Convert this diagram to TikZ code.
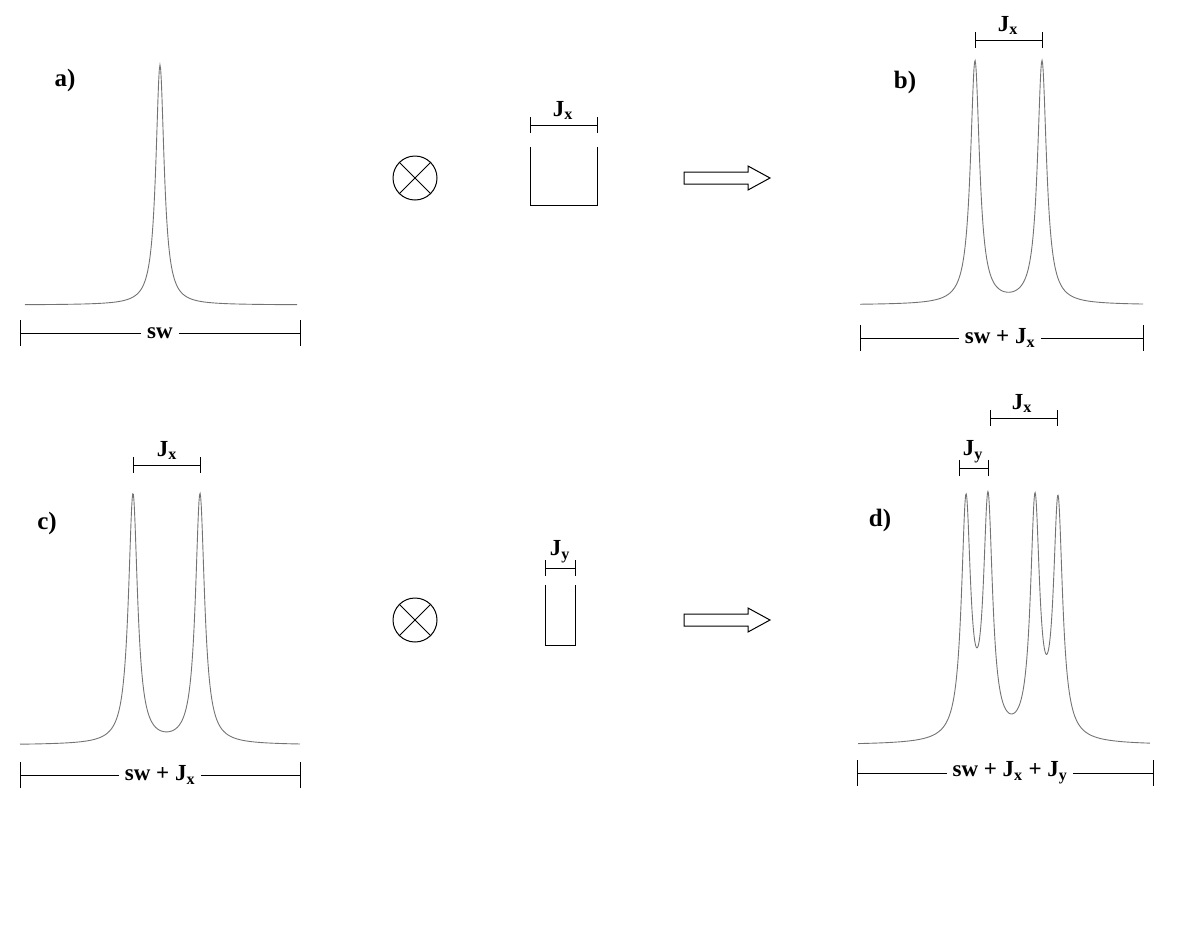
\documentclass[tikz,border=0pt]{standalone}
\usepackage{fontspec}
\setmainfont{Liberation Serif}
\begin{document}
\begin{tikzpicture}[x=1pt,y=-1pt,
  spec/.style={draw=black!55,line width=0.9pt},
  bar/.style={draw=black,line width=1pt},
  lbl/.style={font=\fontsize{25}{28}\selectfont\bfseries,inner sep=1pt},
  jl/.style={font=\fontsize{23}{26}\selectfont\bfseries,inner sep=1pt},
  bl/.style={font=\fontsize{23}{26}\selectfont\bfseries,fill=white,inner sep=6pt}]
\useasboundingbox (0,0) rectangle (1178,943);
% spectra (x scaled by 1/10 inside the Lorentzians)
\draw[spec] plot[domain=25:297,samples=400] (\x,{305-240*(0.25/((((\x)-160)/10)^2+0.25))});
\draw[spec] plot[domain=860:1143,samples=500] (\x,{305-243*(0.3025/((((\x)-975)/10)^2+0.3025)+0.3025/((((\x)-1042)/10)^2+0.3025))});
\draw[spec] plot[domain=20:300,samples=500] (\x,{745-250*(0.3025/((((\x)-133)/10)^2+0.3025)+0.3025/((((\x)-200)/10)^2+0.3025))});
\draw[spec] plot[domain=858:1150,samples=700] (\x,{745-235*(0.3025/((((\x)-966)/10)^2+0.3025)+0.3025/((((\x)-988)/10)^2+0.3025)+0.3025/((((\x)-1035)/10)^2+0.3025)+0.3025/((((\x)-1058)/10)^2+0.3025))});
% width bars
\newcommand\wbar[5]{\draw[bar] (#1,#3) -- (#2,#3) (#1,#3-13) -- (#1,#3+13) (#2,#3-13) -- (#2,#3+13);
  \node[bl] at (#4,#3) {#5};}
\wbar{20}{300}{333}{160}{sw}
\wbar{860}{1143}{338}{1000}{sw + J\textsubscript{x}}
\wbar{20}{300}{775}{160}{sw + J\textsubscript{x}}
\wbar{857}{1153}{773}{1010}{sw + J\textsubscript{x} + J\textsubscript{y}}
% J bars
\newcommand\jbar[5]{\draw[bar] (#1,#3) -- (#2,#3) (#1,#3-8) -- (#1,#3+8) (#2,#3-8) -- (#2,#3+8);
  \node[jl,anchor=south] at (#4,#3-4) {#5};}
\jbar{975}{1042}{40}{1008}{J\textsubscript{x}}
\jbar{133}{200}{465}{167}{J\textsubscript{x}}
\jbar{990}{1057}{418}{1022}{J\textsubscript{x}}
\jbar{959}{988}{468}{973}{J\textsubscript{y}}
\jbar{530}{597}{125}{563}{J\textsubscript{x}}
\jbar{545}{575}{568}{560}{J\textsubscript{y}}
% U boxes
\draw[bar] (530,147) -- (530,205) -- (597,205) -- (597,147);
\draw[bar] (545,585) -- (545,645) -- (575,645) -- (575,585);
% otimes
\foreach \n/\yy in {o1/178,o2/620}{
  \node[draw,circle,line width=1pt,minimum size=44pt,inner sep=0pt] (\n) at (415,\yy) {};
  \draw[line width=1pt] (\n.north west) -- (\n.south east) (\n.north east) -- (\n.south west);}
% arrows
\foreach \yy in {178,620}{
  \draw[line width=1pt] (684,\yy-6) -- (748,\yy-6) -- (748,\yy-12) -- (770,\yy) -- (748,\yy+12) -- (748,\yy+6) -- (684,\yy+6) -- cycle;}
% labels
\node[lbl] (la) at (65,80) {a)};
\node[lbl] (lb) at (905,82) {b)};
\node[lbl] (lc) at (47,523) {c)};
\node[lbl] (ld) at (880,520) {d)};
\end{tikzpicture}
\end{document}
